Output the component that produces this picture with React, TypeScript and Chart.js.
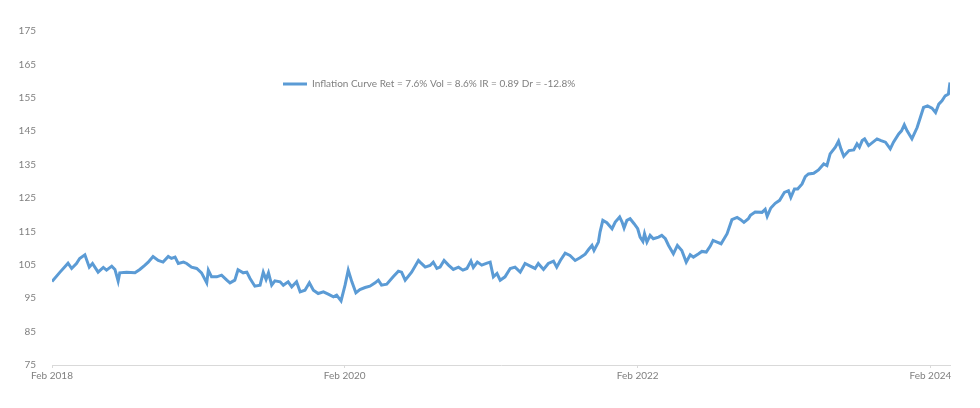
import { useEffect, useRef } from "react";
import { Chart, registerables } from "chart.js";

Chart.register(...registerables);

// dates / index levels
const dates = [
	"2018-02-01", "2018-02-21", "2018-03-13", "2018-03-22", "2018-04-03", "2018-04-11", "2018-04-24", "2018-05-05",
	"2018-05-13", "2018-05-27", "2018-06-09", "2018-06-17", "2018-06-30", "2018-07-08", "2018-07-16", "2018-07-20",
	"2018-08-06", "2018-08-27", "2018-09-08", "2018-09-21", "2018-09-29", "2018-10-11", "2018-10-24", "2018-11-05",
	"2018-11-18", "2018-11-26", "2018-12-05", "2018-12-13", "2018-12-26", "2019-01-03", "2019-01-15", "2019-01-28",
	"2019-02-09", "2019-02-22", "2019-02-26", "2019-03-06", "2019-03-19", "2019-03-31", "2019-04-13", "2019-04-21",
	"2019-05-03", "2019-05-11", "2019-05-24", "2019-06-02", "2019-06-10", "2019-06-22", "2019-07-05", "2019-07-13",
	"2019-07-20", "2019-07-26", "2019-08-03", "2019-08-11", "2019-08-24", "2019-09-01", "2019-09-13", "2019-09-22",
	"2019-10-04", "2019-10-13", "2019-10-25", "2019-11-05", "2019-11-15", "2019-11-27", "2019-12-10", "2019-12-22",
	"2020-01-04", "2020-01-12", "2020-01-23", "2020-02-02", "2020-02-10", "2020-02-19", "2020-02-29", "2020-03-10",
	"2020-03-23", "2020-04-04", "2020-04-17", "2020-04-25", "2020-05-03", "2020-05-16", "2020-06-01", "2020-06-14",
	"2020-06-22", "2020-07-01", "2020-07-17", "2020-08-03", "2020-08-07", "2020-08-15", "2020-08-20", "2020-09-01",
	"2020-09-09", "2020-09-18", "2020-09-26", "2020-10-06", "2020-10-17", "2020-10-29", "2020-11-11", "2020-11-22",
	"2020-12-02", "2020-12-12", "2020-12-18", "2020-12-28", "2021-01-08", "2021-01-21", "2021-01-29", "2021-02-06",
	"2021-02-15", "2021-02-23", "2021-03-07", "2021-03-20", "2021-04-01", "2021-04-14", "2021-04-26", "2021-05-09",
	"2021-05-21", "2021-05-29", "2021-06-11", "2021-06-23", "2021-07-06", "2021-07-14", "2021-07-23", "2021-08-04",
	"2021-08-16", "2021-08-29", "2021-09-10", "2021-09-23", "2021-10-01", "2021-10-10", "2021-10-15", "2021-10-26",
	"2021-10-30", "2021-11-06", "2021-11-16", "2021-11-29", "2021-12-07", "2021-12-18", "2021-12-24", "2021-12-29",
	"2022-01-05", "2022-01-13", "2022-01-23", "2022-02-01", "2022-02-07", "2022-02-14", "2022-02-18", "2022-02-24",
	"2022-03-04", "2022-03-12", "2022-03-25", "2022-04-02", "2022-04-11", "2022-04-19", "2022-05-01", "2022-05-11",
	"2022-05-22", "2022-06-02", "2022-06-12", "2022-06-20", "2022-07-03", "2022-07-11", "2022-07-22", "2022-08-01",
	"2022-08-08", "2022-08-18", "2022-08-28", "2022-09-12", "2022-09-24", "2022-10-07", "2022-10-15", "2022-10-24",
	"2022-11-04", "2022-11-09", "2022-11-21", "2022-12-08", "2022-12-16", "2022-12-21", "2022-12-30", "2023-01-10",
	"2023-01-21", "2023-02-02", "2023-02-12", "2023-02-18", "2023-02-27", "2023-03-07", "2023-03-18", "2023-03-26",
	"2023-04-03", "2023-04-16", "2023-04-28", "2023-05-11", "2023-05-19", "2023-05-27", "2023-06-09", "2023-06-17",
	"2023-06-23", "2023-06-30", "2023-07-13", "2023-07-25", "2023-08-02", "2023-08-08", "2023-08-15", "2023-08-21",
	"2023-08-31", "2023-09-21", "2023-10-01", "2023-10-12", "2023-10-24", "2023-11-01", "2023-11-14", "2023-11-21",
	"2023-11-28", "2023-12-05", "2023-12-17", "2023-12-30", "2024-01-07", "2024-01-15", "2024-01-25", "2024-02-05",
	"2024-02-14", "2024-02-22", "2024-03-01", "2024-03-09", "2024-03-17", "2024-03-21",
];

const values = [
	100.0, 102.8, 105.5, 103.9, 105.4, 106.9, 108.0, 104.3,
	105.4, 102.8, 104.2, 103.4, 104.6, 103.6, 100.1, 102.6,
	102.8, 102.6, 103.6, 104.9, 105.8, 107.5, 106.3, 105.8,
	107.5, 106.9, 107.3, 105.4, 105.8, 105.4, 104.3, 103.9,
	102.6, 99.6, 103.4, 101.4, 101.4, 101.9, 100.4, 99.6,
	100.4, 103.5, 102.6, 102.8, 100.9, 98.6, 98.9, 102.8,
	100.6, 102.6, 98.9, 100.2, 99.9, 98.9, 99.9, 98.4,
	99.9, 96.9, 97.4, 99.6, 97.4, 96.4, 96.9, 96.2,
	95.4, 95.9, 94.2, 98.9, 103.4, 99.9, 96.6, 97.6,
	98.2, 98.6, 99.6, 100.4, 98.9, 99.2, 101.4, 103.1,
	102.8, 100.4, 102.8, 106.3, 105.8, 104.9, 104.3, 104.8,
	105.8, 103.9, 104.3, 106.3, 104.9, 103.6, 104.3, 103.4,
	103.9, 106.1, 104.2, 105.8, 104.9, 105.5, 105.8, 101.4,
	102.4, 100.4, 101.4, 103.9, 104.3, 102.8, 105.4, 104.6,
	103.9, 105.4, 103.6, 105.4, 106.1, 104.3, 106.3, 108.5,
	107.8, 106.3, 107.1, 108.2, 109.5, 110.8, 109.3, 111.8,
	114.8, 118.3, 117.6, 115.8, 117.8, 119.3, 117.8, 116.0,
	118.3, 118.8, 117.3, 115.8, 113.3, 112.0, 114.3, 111.8,
	113.8, 112.8, 113.3, 113.8, 112.8, 110.8, 108.3, 110.8,
	109.3, 105.8, 108.0, 107.3, 108.3, 109.0, 108.8, 110.6,
	112.3, 111.8, 111.3, 114.3, 118.5, 119.2, 118.6, 117.7,
	118.8, 119.8, 120.8, 120.7, 121.6, 119.5, 122.0, 123.4,
	124.3, 126.7, 127.2, 125.2, 127.7, 127.7, 129.2, 131.4,
	132.2, 132.4, 133.4, 135.2, 134.7, 138.2, 140.2, 142.0,
	139.7, 137.5, 139.2, 139.4, 141.2, 140.2, 142.2, 142.7,
	140.7, 142.7, 142.2, 141.7, 139.7, 141.7, 144.2, 145.1,
	146.9, 145.1, 142.7, 146.1, 149.1, 152.1, 152.6, 151.9,
	150.6, 153.1, 154.1, 155.6, 156.1, 159.6,
];

const xTickDates = ["2018-02-01", "2020-02-01", "2022-02-01", "2024-02-01"];
const xTickLabels = ["Feb 2018", "Feb 2020", "Feb 2022", "Feb 2024"];
const seriesLabel = "Inflation Curve Ret = 7.6% Vol = 8.6% IR = 0.89 Dr = -12.8%";

const tickFont = { family: "Lato", size: 10 };
const tickColor = "#808080";

// legend sits inside the plot, left of centre
const legendPlacer = {
	id: "legendPlacer",
	afterLayout(chart) {
		const lg = chart.legend;
		const a = chart.chartArea;
		if (!lg || !a) return;
		const w = lg.width;
		const h = lg.height;
		lg.left = a.left + 221;
		lg.right = lg.left + w;
		lg.top = a.top + 38;
		lg.bottom = lg.top + h;
	},
};

const App = () => {
	const chartRef = useRef<HTMLCanvasElement | null>(null);

	useEffect(() => {
		const ctx = chartRef.current.getContext("2d");
		const points = dates.map((d, i) => ({ x: Date.parse(d), y: values[i] }));

		const myChart = new Chart(ctx, {
			type: "line",
			data: {
				datasets: [
					{
						label: seriesLabel,
						data: points,
						borderColor: "#5b9bd5",
						backgroundColor: "#5b9bd5",
						borderWidth: 3,
						pointRadius: 0,
						tension: 0,
					},
				],
			},
			plugins: [legendPlacer],
			options: {
				animation: false,
				responsive: true,
				maintainAspectRatio: false,
				layout: { padding: { top: 23, right: 22, left: 0, bottom: 0 } },
				plugins: {
					legend: {
						position: "chartArea",
						align: "start",
						labels: {
							usePointStyle: true,
							pointStyle: "line",
							pointStyleWidth: 24,
							font: { family: "Lato", size: 10 },
							color: "#808080",
						},
					},
					tooltip: { enabled: false },
				},
				scales: {
					x: {
						type: "linear",
						min: Date.parse(dates[0]),
						max: Date.parse(dates[dates.length - 1]),
						afterBuildTicks: (scale) => {
							scale.ticks = xTickDates.map((d) => ({ value: Date.parse(d) }));
						},
						afterFit: (scale) => {
							scale.height = 35;
						},
						grid: { drawOnChartArea: false, drawTicks: true, tickLength: 3, color: "#d9d9d9" },
						border: { display: true, color: "#d9d9d9" },
						ticks: {
							autoSkip: false,
							maxRotation: 0,
							padding: 2,
							font: tickFont,
							color: tickColor,
							callback: (value, index) => xTickLabels[index],
						},
					},
					y: {
						min: 75,
						max: 175,
						afterFit: (scale) => {
							scale.width = 44;
						},
						grid: { display: false },
						border: { display: false },
						ticks: { stepSize: 10, padding: 8, font: tickFont, color: tickColor },
					},
				},
			},
		});

		return () => {
			myChart.destroy();
		};
	}, []);

	return (
		<div style={{ width: 964, height: 392 }}>
			<canvas ref={chartRef} />
		</div>
	);
};

export default App;
